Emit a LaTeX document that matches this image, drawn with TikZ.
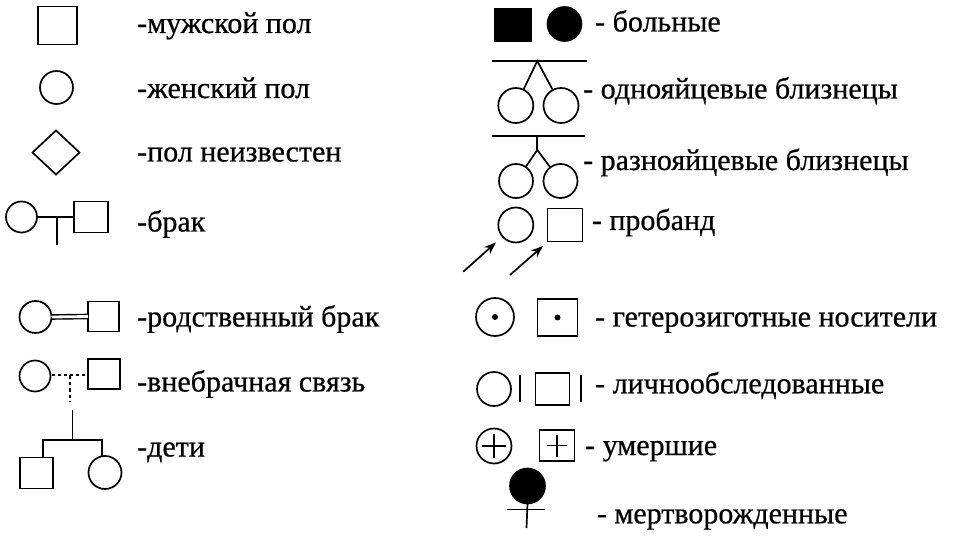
\documentclass[tikz,border=0pt]{standalone}
\usepackage{fontspec}
\setmainfont{Liberation Serif}[FakeBold=0.6]
\usetikzlibrary{shapes.geometric,arrows.meta}
\begin{document}
\begin{tikzpicture}[x=1pt,y=-1pt,
  sym/.style={draw, line width=1.7pt, inner sep=0pt, outer sep=0pt},
  sq/.style={sym, rectangle},
  circ/.style={sym, circle},
  dia/.style={sym, diamond},
  filled/.style={fill=black},
  ln/.style={line width=1.7pt},
  dot/.style={circle, fill=black, inner sep=0pt, minimum size=6pt},
  lbl/.style={anchor=base west, inner sep=0pt, font=\fontsize{30}{33}\selectfont},
  arr/.style={ln, -{Stealth[length=12pt, width=9pt]}}
]
\useasboundingbox (0,0) rectangle (954,548);
% ---------------- left column ----------------
\node[sq, minimum width=39pt, minimum height=38pt] (male) at (57.5,25.5) {};
\node[lbl] (tmale) at (137,33) {-мужской пол};

\node[circ, minimum size=33pt] (female) at (56.5,87.5) {};
\node[lbl] (tfemale) at (137,98) {-женский пол};

\node[dia, minimum width=47pt, minimum height=44pt] (unk) at (56,152.5) {};
\node[lbl] (tunk) at (137,161.5) {-пол неизвестен};

% marriage
\node[circ, minimum size=31pt] (mc) at (21.5,217) {};
\node[sq, minimum width=34pt, minimum height=31pt] (ms) at (90.8,217) {};
\draw[ln] (mc.east) -- (ms.west);
\coordinate (mtop) at (56.7,217);
\coordinate (mbot) at (56.7,245);
\draw[ln] (mtop) -- (mbot);
\node[lbl] (tmar) at (137,231.5) {-брак};

% consanguineous marriage
\node[circ, minimum size=32pt] (cc) at (35.5,317) {};
\node[sq, minimum width=31pt, minimum height=30pt] (cs) at (103.5,316.5) {};
\draw[line width=1.4pt, double, double distance=2.8pt] (cc.east) -- (cs.west);
\node[lbl] (tcon) at (137,326.5) {-родственный брак};

% extramarital
\node[circ, minimum size=31pt] (ec) at (35,376) {};
\node[sq, minimum width=32pt, minimum height=30pt] (es) at (103.7,374) {};
\coordinate (el) at (51.5,375);
\coordinate (er) at (87.2,375);
\draw[ln, dash pattern=on 3pt off 3pt] (el) -- (er);
\coordinate (etop) at (70,375);
\coordinate (ebot) at (70,402);
\draw[ln, dash pattern=on 3.5pt off 3pt] (etop) -- (ebot);
\node[lbl] (text) at (137,391.5) {-внебрачная связь};

% children
\coordinate (kst) at (72.5,410);
\coordinate (kmid) at (72.5,440);
\coordinate (kl) at (42.7,440);
\coordinate (kr) at (101.7,440);
\node[sq, minimum width=33pt, minimum height=31pt] (ks) at (36.5,473) {};
\node[circ, minimum size=33pt] (kc) at (105,472.5) {};
\coordinate (kld) at (42.7,457);
\coordinate (krd) at (101.7,457);
\draw[ln] (kst) -- (kmid);
\draw[ln] (kld) -- (kl) -- (kr) -- (krd);
\node[lbl] (tkid) at (137,456.5) {-дети};

% ---------------- right column ----------------
\node[sq, filled, minimum width=36pt, minimum height=32pt] (as) at (512.7,25) {};
\node[circ, filled, minimum size=34pt] (ac) at (564.5,24) {};
\node[lbl] (taff) at (595,31.5) {- больные};

% monozygotic twins
\coordinate (z1l) at (491.7,61);
\coordinate (z1r) at (586.7,61);
\coordinate (z1a) at (537.3,61);
\draw[ln] (z1l) -- (z1r);
\node[circ, minimum size=35pt] (z1c1) at (515.8,105.5) {};
\node[circ, minimum size=35pt] (z1c2) at (561,105.5) {};
\draw[ln] (z1c1) -- (z1a) -- (z1c2);
\node[lbl] (tmz) at (583,98.5) {- однояйцевые близнецы};

% dizygotic twins
\coordinate (z2l) at (491.7,136);
\coordinate (z2r) at (585,136);
\coordinate (z2s) at (537.3,136);
\coordinate (z2a) at (537.3,150);
\draw[ln] (z2l) -- (z2r);
\draw[ln] (z2s) -- (z2a);
\node[circ, minimum size=34pt] (z2c1) at (516,181) {};
\node[circ, minimum size=34pt] (z2c2) at (560.5,181) {};
\draw[ln] (z2c1) -- (z2a) -- (z2c2);
\node[lbl] (tdz) at (583,170) {- разнояйцевые близнецы};

% proband
\node[circ, minimum size=35pt] (pc) at (515.8,225) {};
\node[sq, minimum width=35pt, minimum height=33pt] (ps) at (565,225) {};
\coordinate (pa1) at (463.3,271.7);
\coordinate (pt1) at (496,242.5);
\coordinate (pa2) at (510,275);
\coordinate (pt2) at (543,246);
\draw[arr] (pa1) -- (pt1);
\draw[arr] (pa2) -- (pt2);
\node[lbl] (tpro) at (591.7,230) {- пробанд};

% heterozygous carriers
\node[circ, minimum size=38pt] (hc) at (495,317) {};
\node[dot] (hcd) at (hc.center) {};
\node[sq, minimum width=40pt, minimum height=37pt] (hs) at (557.5,317.5) {};
\node[dot] (hsd) at (hs.center) {};
\node[lbl] (thet) at (595,326.5) {- гетерозиготные носители};

% personally examined
\node[circ, minimum size=34pt] (xc) at (494,389) {};
\coordinate (xb1t) at (520,375);
\coordinate (xb1b) at (520,402);
\draw[ln] (xb1t) -- (xb1b);
\node[sq, minimum width=34pt, minimum height=32pt] (xs) at (552.5,388.7) {};
\coordinate (xb2t) at (580.7,375);
\coordinate (xb2b) at (580.7,402);
\draw[ln] (xb2t) -- (xb2b);
\node[lbl] (texa) at (595,393.3) {- личнообследованные};

% deceased
\node[circ, minimum size=35pt] (dc) at (494,446) {};
\draw[ln] ([xshift=-12pt]dc.center) -- ([xshift=12pt]dc.center);
\draw[ln] ([yshift=-12pt]dc.center) -- ([yshift=12pt]dc.center);
\node[sq, minimum width=35pt, minimum height=31pt] (ds) at (557,445.5) {};
\draw[ln] ([xshift=-10pt]ds.center) -- ([xshift=10pt]ds.center);
\draw[ln] ([yshift=-11pt]ds.center) -- ([yshift=11pt]ds.center);
\node[lbl] (tdec) at (585,455) {- умершие};

% stillborn
\node[circ, filled, minimum size=35pt] (sc) at (527.5,486) {};
\coordinate (sbot) at (526.5,528);
\coordinate (shl) at (506.7,509.5);
\coordinate (shr) at (545,509.5);
\draw[ln] (sc.south) -- (sbot);
\draw[ln] (shl) -- (shr);
\node[lbl] (tsb) at (596.7,523.3) {- мертворожденные};
\end{tikzpicture}
\end{document}
